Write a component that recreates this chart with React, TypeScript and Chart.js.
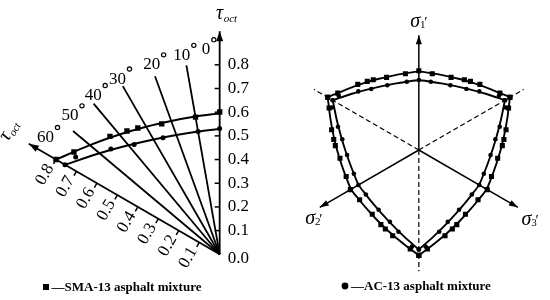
import React, { useEffect, useRef } from "react";
import { Chart, registerables } from "chart.js";

Chart.register(...registerables);

// ---------------- data ----------------
const curveAngles = [0, 10, 20, 30, 40, 50, 60];
const smaCurveTau = [0.595, 0.5905, 0.599, 0.622, 0.66, 0.717, 0.8];
const acCurveTau = [0.529, 0.526, 0.536, 0.56, 0.601, 0.664, 0.756];

const smaPointAngles = [0, 10, 24, 33, 37, 43, 55, 60];
const smaPointTau = [0.601, 0.588, 0.603, 0.636, 0.652, 0.681, 0.753, 0.8];
const acPointAngles = [0, 10, 26, 38, 46, 56, 60];
const acPointTau = [0.531, 0.526, 0.547, 0.588, 0.64, 0.735, 0.756];

const tauTicks = [0, 0.1, 0.2, 0.3, 0.4, 0.5, 0.6, 0.7, 0.8];
const tauTickLabels = ["0.0", "0.1", "0.2", "0.3", "0.4", "0.5", "0.6", "0.7", "0.8"];
const rayAngles = [10, 20, 30, 40, 50];
const rayLengths = [0.81, 0.8, 0.82, 0.83, 0.81];
const angleLabels = ["0", "10", "20", "30", "40", "50", "60"];

const sigmaAxisAngles = [90, 210, 330];
const sigmaAxisNames = ["1", "2", "3"];
const dashedAngles = [150, 30, 270];

const legendSMA = "\u2014SMA-13 asphalt mixture";
const legendAC = "\u2014AC-13 asphalt mixture";

// ---------------- layout ----------------
const PANEL_W = 275;
const PANEL_H = 300;
const SERIF = '"Liberation Serif", "Times New Roman", "DejaVu Serif", serif';
const L_ORIGIN = [222, 257];
const L_SCALE = 243;
const R_ORIGIN = [144, 150];
const R_SCALE = 135;
const AXIS_V = 0.942;
const AXIS_T = 0.933;
const AXIS_S = 0.87;
const DASH_LEN = 0.92;
const angleLabelPolar = [
  [3.8, 0.866],
  [10.8, 0.855],
  [19.8, 0.85],
  [30.3, 0.857],
  [38.6, 0.858],
  [47.3, 0.862],
  [56.2, 0.887],
];
const sigmaLabelPolar = [
  [91.6, 0.971],
  [212.4, 0.978],
  [327, 0.977],
];

// ---------------- helpers ----------------
const rad = (d: number) => (d * Math.PI) / 180;
const polarL = (a: number, r: number) => ({ x: -r * Math.sin(rad(a)), y: r * Math.cos(rad(a)) });
const polarR = (a: number, r: number) => ({ x: r * Math.cos(rad(a)), y: r * Math.sin(rad(a)) });

function lineDs(data: any[], width: number, extra: any = {}) {
  return {
    data,
    showLine: true,
    borderColor: "#000",
    backgroundColor: "#000",
    borderWidth: width,
    pointRadius: 0,
    pointHoverRadius: 0,
    tension: 0,
    ...extra,
  };
}
function markerDs(data: any[], style: string, radius: number) {
  return {
    data,
    showLine: false,
    pointStyle: style,
    pointRadius: radius,
    pointHoverRadius: radius,
    backgroundColor: "#000",
    borderColor: "#000",
    borderWidth: 0,
  };
}
function scalesFor(origin: number[], scale: number) {
  return {
    x: { type: "linear", display: false, min: -origin[0] / scale, max: (PANEL_W - origin[0]) / scale },
    y: { type: "linear", display: false, min: -(PANEL_H - origin[1]) / scale, max: origin[1] / scale },
  };
}
function arrowHead(ctx: CanvasRenderingContext2D, tx: number, ty: number, fx: number, fy: number, len: number, hw: number) {
  const dx = tx - fx;
  const dy = ty - fy;
  const L = Math.hypot(dx, dy);
  const ux = dx / L;
  const uy = dy / L;
  const bx = tx - ux * len;
  const by = ty - uy * len;
  ctx.beginPath();
  ctx.moveTo(tx, ty);
  ctx.lineTo(bx - uy * hw, by + ux * hw);
  ctx.lineTo(bx + uy * hw, by - ux * hw);
  ctx.closePath();
  ctx.fill();
}
function seg(ctx: CanvasRenderingContext2D, x1: number, y1: number, x2: number, y2: number) {
  ctx.beginPath();
  ctx.moveTo(x1, y1);
  ctx.lineTo(x2, y2);
  ctx.stroke();
}

// ---------------- left panel ----------------
const leftDecor = {
  id: "leftDecor",
  afterDraw(chart: any) {
    const ctx: CanvasRenderingContext2D = chart.ctx;
    const sx = chart.scales.x;
    const sy = chart.scales.y;
    const P = (a: number, r: number) => {
      const p = polarL(a, r);
      return [sx.getPixelForValue(p.x), sy.getPixelForValue(p.y)];
    };
    ctx.save();
    ctx.fillStyle = "#000";
    ctx.strokeStyle = "#000";
    const [ox, oy] = P(0, 0);
    const [vx, vy] = P(0, AXIS_V);
    arrowHead(ctx, vx, vy, ox, oy, 10, 3.5);
    const [tx, ty] = P(60, AXIS_T);
    arrowHead(ctx, tx, ty, ox, oy, 10, 3.5);

    // vertical axis ticks & labels
    ctx.lineWidth = 1.5;
    ctx.font = `17px ${SERIF}`;
    ctx.textBaseline = "middle";
    tauTicks.forEach((v, i) => {
      const [x, y] = P(0, v);
      if (v > 0) seg(ctx, x - 5, y, x, y);
      ctx.textAlign = "left";
      ctx.fillText(tauTickLabels[i], x + 8, y + (v === 0 ? 4 : 0));
    });

    // tilted axis ticks & labels
    const ax = [-Math.sin(rad(60)), -Math.cos(rad(60))];
    const perp = [-0.5, 0.866];
    tauTicks.forEach((v, i) => {
      if (v === 0) return;
      const [x, y] = P(60, v);
      seg(ctx, x, y, x + perp[0] * 5, y + perp[1] * 5);
      ctx.save();
      ctx.translate(x + perp[0] * 18.6 + ax[0] * 2, y + perp[1] * 18.6 + ax[1] * 2);
      ctx.rotate(-Math.PI / 3);
      ctx.textAlign = "center";
      ctx.fillText(tauTickLabels[i], 0, 0);
      ctx.restore();
    });

    // angle labels
    ctx.lineWidth = 1.2;
    angleLabels.forEach((t, i) => {
      const [x, y] = P(angleLabelPolar[i][0], angleLabelPolar[i][1]);
      ctx.textAlign = "center";
      ctx.fillText(t, x, y);
      const w = ctx.measureText(t).width;
      ctx.beginPath();
      ctx.arc(x + w / 2 + 3.5, y - 10, 2.1, 0, Math.PI * 2);
      ctx.stroke();
    });

    // tau_oct labels
    ctx.textBaseline = "alphabetic";
    ctx.textAlign = "left";
    ctx.font = `italic 20px ${SERIF}`;
    ctx.fillText("\u03c4", 216, 19);
    const tw = ctx.measureText("\u03c4").width;
    ctx.font = `italic 11px ${SERIF}`;
    ctx.fillText("oct", 216 + tw + 0.5, 22);

    ctx.save();
    ctx.translate(8, 142);
    ctx.rotate(-Math.PI / 3);
    ctx.font = `italic 20px ${SERIF}`;
    ctx.fillText("\u03c4", 0, 0);
    ctx.font = `italic 11px ${SERIF}`;
    ctx.fillText("oct", tw + 0.5, 3);
    ctx.restore();

    // legend
    ctx.fillRect(43, 284, 6, 6);
    ctx.font = `bold 13px ${SERIF}`;
    ctx.textBaseline = "middle";
    ctx.fillText(legendSMA, 51.5, 287.5);
    ctx.restore();
  },
};

function leftConfig(): any {
  const O = polarL(0, 0);
  const datasets: any[] = [
    lineDs([O, polarL(0, AXIS_V)], 1.8),
    lineDs([O, polarL(60, AXIS_T)], 1.8),
    ...rayAngles.map((a, i) => lineDs([O, polarL(a, rayLengths[i])], 1.8)),
    lineDs(curveAngles.map((a, i) => polarL(a, smaCurveTau[i])), 2, { tension: 0.3 }),
    lineDs(curveAngles.map((a, i) => polarL(a, acCurveTau[i])), 2, { tension: 0.3 }),
    markerDs(smaPointAngles.map((a, i) => polarL(a, smaPointTau[i])), "rect", 3.8),
    markerDs(acPointAngles.map((a, i) => polarL(a, acPointTau[i])), "circle", 2.5),
  ];
  return {
    type: "scatter",
    data: { datasets },
    options: {
      responsive: false,
      animation: false,
      events: [],
      layout: { padding: 0 },
      scales: scalesFor(L_ORIGIN, L_SCALE),
      plugins: { legend: { display: false }, tooltip: { enabled: false } },
    },
    plugins: [leftDecor],
  };
}

// ---------------- right panel ----------------
function edge(phi: number, vals: number[]) {
  const pts: any[] = [];
  for (let i = curveAngles.length - 1; i >= 0; i--) pts.push(polarR(phi + curveAngles[i], vals[i]));
  for (let i = 1; i < curveAngles.length; i++) pts.push(polarR(phi - curveAngles[i], vals[i]));
  return pts;
}
function mirrored(angles: number[], taus: number[]) {
  const pts: any[] = [];
  sigmaAxisAngles.forEach((phi) => {
    angles.forEach((a, i) => {
      pts.push(polarR(phi + a, taus[i]));
      if (a > 0) pts.push(polarR(phi - a, taus[i]));
    });
  });
  return pts;
}

const rightDecor = {
  id: "rightDecor",
  afterDraw(chart: any) {
    const ctx: CanvasRenderingContext2D = chart.ctx;
    const sx = chart.scales.x;
    const sy = chart.scales.y;
    const P = (a: number, r: number) => {
      const p = polarR(a, r);
      return [sx.getPixelForValue(p.x), sy.getPixelForValue(p.y)];
    };
    ctx.save();
    ctx.fillStyle = "#000";
    ctx.strokeStyle = "#000";
    const [ox, oy] = P(0, 0);
    sigmaAxisAngles.forEach((phi, i) => {
      const [x, y] = P(phi, AXIS_S);
      arrowHead(ctx, x, y, ox, oy, 9, 3);
      const [cx, cy] = P(sigmaLabelPolar[i][0], sigmaLabelPolar[i][1]);
      ctx.textAlign = "center";
      ctx.textBaseline = "alphabetic";
      ctx.font = `italic 20px ${SERIF}`;
      ctx.fillText("\u03c3", cx, cy + 4.5);
      ctx.textAlign = "left";
      ctx.font = `11px ${SERIF}`;
      ctx.fillText(sigmaAxisNames[i], cx + 4.7, cy + 6.3);
      ctx.font = `15px ${SERIF}`;
      ctx.fillText("\u2032", cx + 9, cy + 5);
    });

    // legend
    ctx.beginPath();
    ctx.arc(70, 286, 3.4, 0, Math.PI * 2);
    ctx.fill();
    ctx.font = `bold 13px ${SERIF}`;
    ctx.textAlign = "left";
    ctx.textBaseline = "middle";
    ctx.fillText(legendAC, 76, 286.5);
    ctx.restore();
  },
};

function rightConfig(): any {
  const O = polarR(0, 0);
  const datasets: any[] = [
    ...sigmaAxisAngles.map((a) => lineDs([O, polarR(a, AXIS_S)], 1.5)),
    ...dashedAngles.map((a) => lineDs([O, polarR(a, DASH_LEN)], 1.2, { borderDash: [5, 3] })),
    ...sigmaAxisAngles.map((phi) => lineDs(edge(phi, smaCurveTau), 1.9, { tension: 0.3 })),
    ...sigmaAxisAngles.map((phi) => lineDs(edge(phi, acCurveTau), 1.9, { tension: 0.3 })),
    markerDs(mirrored(smaPointAngles, smaPointTau), "rect", 3.6),
    markerDs(mirrored(acPointAngles, acPointTau), "circle", 2.3),
  ];
  return {
    type: "scatter",
    data: { datasets },
    options: {
      responsive: false,
      animation: false,
      events: [],
      layout: { padding: 0 },
      scales: scalesFor(R_ORIGIN, R_SCALE),
      plugins: { legend: { display: false }, tooltip: { enabled: false } },
    },
    plugins: [rightDecor],
  };
}

export default function App() {
  const leftRef = useRef<HTMLCanvasElement>(null);
  const rightRef = useRef<HTMLCanvasElement>(null);
  useEffect(() => {
    const c1 = new Chart(leftRef.current as HTMLCanvasElement, leftConfig());
    const c2 = new Chart(rightRef.current as HTMLCanvasElement, rightConfig());
    return () => {
      c1.destroy();
      c2.destroy();
    };
  }, []);
  return (
    <div style={{ position: "absolute", left: 0, top: 0, width: 550, height: 300, background: "#fff", overflow: "hidden" }}>
      <canvas ref={leftRef} width={PANEL_W} height={PANEL_H} style={{ position: "absolute", left: 0, top: 0 }} />
      <canvas ref={rightRef} width={PANEL_W} height={PANEL_H} style={{ position: "absolute", left: PANEL_W, top: 0 }} />
    </div>
  );
}
